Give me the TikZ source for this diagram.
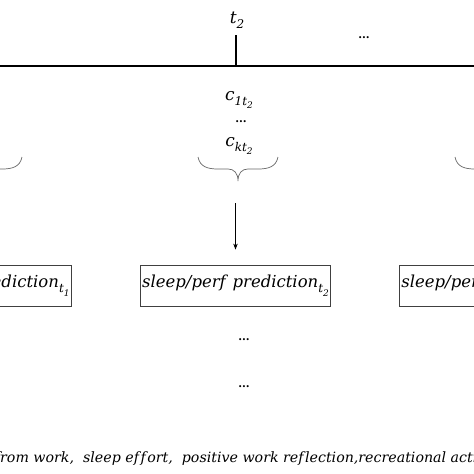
\documentclass[tikz,border=0pt]{standalone}
\usepackage{fontspec}
\setmainfont{DejaVu Serif}
\usetikzlibrary{arrows.meta}
\newcommand\sbx[1]{\raisebox{-0.3em}{\fontsize{12}{13}\selectfont #1}}
\newcommand\ssbx[1]{\raisebox{-0.3em}{\fontsize{9}{10}\selectfont #1}}
\newcommand\fk{f\kern1.5pt}
\begin{document}
\begin{tikzpicture}[x=1pt,y=-1pt,
  lbl/.style={inner sep=0pt,font=\fontsize{17}{20}\selectfont\itshape},
  dots/.style={inner sep=0pt,font=\fontsize{11}{12}\selectfont\bfseries},
  predbox/.style={draw=black!75,line width=0.8pt,minimum height=41pt,inner xsep=2pt,inner ysep=0pt,font=\fontsize{16.5}{19}\selectfont\itshape},
  bracel/.style={draw=black!60,line width=0.7pt},
  conn/.style={draw,line width=0.8pt,-{Stealth[length=6pt,width=4.5pt]}}]
\useasboundingbox (0,0) rectangle (474,474);
\clip (0,0) rectangle (474,474);
% timeline
\coordinate (tl) at (-5,65.5);
\coordinate (tr) at (479,65.5);
\draw[line width=2pt] (tl) -- (tr);
\coordinate (tickb) at (236,65.5);
\coordinate (tickt) at (236,35);
\draw[line width=1.5pt] (tickb) -- (tickt);
\node[lbl] (t2) at (237,20) {t\sbx{2}};
\node[dots] (tdots) at (364,38) {...};
\node[lbl] (c1) at (239,100) {c\sbx{1t\ssbx{2}}};
\node[dots] (cdots) at (241,122) {...};
\node[lbl] (ck) at (239,146) {c\sbx{kt\ssbx{2}}};
% braces
\foreach \cx/\nm in {-18/bl,238/bc,495/br}{
  \draw[bracel] (\cx-40,157) .. controls (\cx-38,167) and (\cx-30,169) .. (\cx-20,169)
     -- (\cx-10,169) .. controls (\cx-4,169) and (\cx,173) .. (\cx,181)
     .. controls (\cx,173) and (\cx+4,169) .. (\cx+10,169)
     -- (\cx+20,169) .. controls (\cx+30,169) and (\cx+38,167) .. (\cx+40,157);
  \coordinate (\nm) at (\cx,181);
}
% boxes
\node[predbox,anchor=east] (p1) at (72,285.5) {sleep/per\fk{} prediction\sbx{t\ssbx{1}}};
\node[predbox,minimum width=189pt] (p2) at (235.5,285.5) {sleep/per\fk{} prediction\sbx{t\ssbx{2}}};
\node[predbox,anchor=west] (p3) at (399,285.5) {sleep/per\fk{} prediction\sbx{t\ssbx{3}}};
\draw[conn,shorten <=22pt,shorten >=15pt] (bc -| p2.north) -- (p2.north);
\node[dots] (d1) at (244,340) {...};
\node[dots] (d2) at (244,387) {...};
\node[inner sep=0pt,anchor=base west,font=\fontsize{14.2}{17}\selectfont\itshape] (feat) at (0,462)
  {\llap{f}rom work,\ \ sleep e\fk\fk ort,\ \ positive work re\fk lection,recreational activities};
\end{tikzpicture}
\end{document}
